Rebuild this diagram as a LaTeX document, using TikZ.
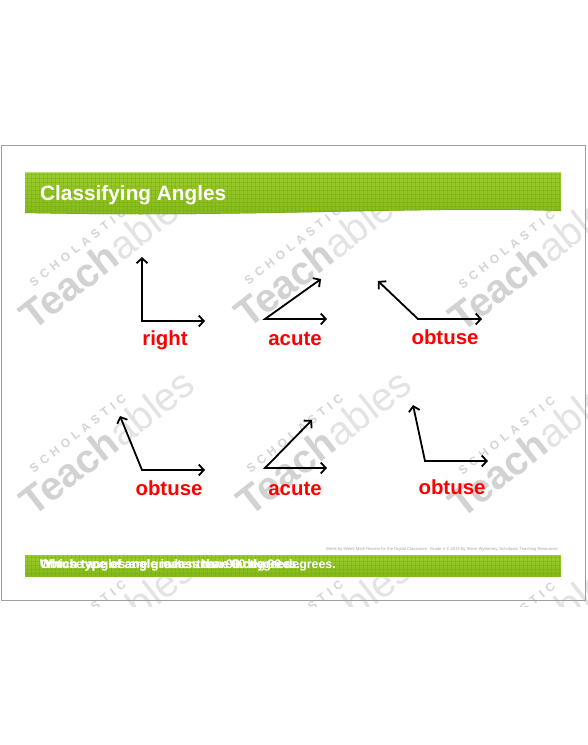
\documentclass[tikz,border=0pt]{standalone}
\usepackage{fontspec}
\setmainfont{Liberation Sans}
\usetikzlibrary{arrows.meta}
\definecolor{bgreen}{HTML}{8DC21F}
\definecolor{bgreenT}{HTML}{9CCD2C}
\definecolor{bgreenB}{HTML}{84B91A}
\definecolor{gridg}{HTML}{6FA512}
\definecolor{wmteach}{HTML}{D2D2D2}
\definecolor{wmables}{HTML}{E3E3E3}
\definecolor{wmschol}{HTML}{D4D4D4}
\newcommand{\wmk}[3]{%
  \begin{scope}[shift={(#1,#2)},rotate=38,transform shape]
    \node[anchor=base west,inner sep=0pt,text=wmteach,font=\bfseries\fontsize{40}{40}\selectfont] (wt#3) at (0,0) {Teach};
    \node[anchor=base west,inner sep=0pt,text=wmables,font=\fontsize{40}{40}\selectfont] (wa#3) at (wt#3.base east) {ables};
    \node[anchor=base west,inner sep=0pt,text=wmschol,font=\bfseries\fontsize{12}{12}\selectfont] (ws#3) at (28,-35) {S\kern4.5pt{}C\kern4.5pt{}H\kern4.5pt{}O\kern4.5pt{}L\kern4.5pt{}A\kern4.5pt{}S\kern4.5pt{}T\kern4.5pt{}I\kern4.5pt{}C};
  \end{scope}}
\begin{document}
\begin{tikzpicture}[x=1pt,y=-1pt,
  angarr/.style={draw=black,line width=1.8pt,line join=miter,
    {Straight Barb[length=5pt,width=11pt]}-{Straight Barb[length=5pt,width=11pt]}},
  lbl/.style={anchor=base,inner sep=0pt,text=red,font=\bfseries\fontsize{20.4}{20.4}\selectfont},
  foot/.style={anchor=base west,inner sep=0pt,text=white,font=\bfseries\fontsize{12.4}{12.4}\selectfont}]
\useasboundingbox (0,0) rectangle (588,745);
\fill[white] (0,0) rectangle (588,745);
% watermarks
\begin{scope}
  \clip (0,140) rectangle (588,606);
  \wmk{33}{332}{a}\wmk{248}{330}{b}\wmk{462}{334}{c}
  \wmk{33}{518}{d}\wmk{250}{518}{e}\wmk{462}{520}{f}
  \wmk{33}{704}{g}\wmk{250}{704}{h}\wmk{462}{706}{i}
\end{scope}
% slide border
\draw[gray!75,line width=0.9pt] (1.5,145.5) rectangle (585.5,600);
% title banner
\path[top color=bgreenT,bottom color=bgreenB] (25,172) -- (561,172) -- (561,211)
  .. controls (420,206) and (250,218) .. (25,213) -- cycle;
\begin{scope}
  \clip (25,172) -- (561,172) -- (561,211) .. controls (420,206) and (250,218) .. (25,213) -- cycle;
  \foreach \i in {27,31,...,561} {\draw[gridg,line width=0.35pt,opacity=0.35] (\i,170) -- (\i,220);}
  \foreach \j in {174,178,...,218} {\draw[gridg,line width=0.35pt,opacity=0.35] (25,\j) -- (561,\j);}
  \draw[white,line width=1.2pt,opacity=0.35] (25,172.6) -- (561,172.6);
  \draw[gridg,line width=1.4pt,opacity=0.6] (561,211) .. controls (420,206) and (250,218) .. (25,213);
\end{scope}
\node[anchor=base west,inner sep=0pt,text=white,font=\bfseries\fontsize{20.8}{20.8}\selectfont] (title) at (40,200) {Classifying Angles};
% footer banner
\path[top color=bgreenT,bottom color=bgreenB] (25,555) rectangle (561,576);
\begin{scope}
  \clip (25,555) rectangle (561,576);
  \foreach \i in {27,31,...,561} {\draw[gridg,line width=0.35pt,opacity=0.35] (\i,555) -- (\i,576);}
  \foreach \j in {557,561,...,576} {\draw[gridg,line width=0.35pt,opacity=0.35] (25,\j) -- (561,\j);}
\end{scope}
\node[foot] (f1) at (40,568.5) {Which type of angle measures exactly 90 degrees.};
\node[foot] (f2) at (40,568.5) {Obtuse angles are greater than 90 degrees.};
\node[foot] (f3) at (40,568.5) {Which type of angle is less than 90 degrees.};
\node[anchor=base east,inner sep=0pt,text=gray!70,font=\fontsize{4.2}{4.2}\selectfont] (credit) at (558,550) {Week-by-Week Math Review for the Digital Classroom: Grade 4 \textcopyright\ 2015 by Steve Wyborney, Scholastic Teaching Resources};
% angles
\coordinate (r0) at (142,321); \coordinate (r1) at (142,257); \coordinate (r2) at (205,321);
\coordinate (a0) at (265,319); \coordinate (a1) at (321,279); \coordinate (a2) at (327,319);
\coordinate (o0) at (418,319); \coordinate (o1) at (378,281); \coordinate (o2) at (482,319);
\coordinate (p0) at (142,470); \coordinate (p1) at (120,416); \coordinate (p2) at (205,470);
\coordinate (c0) at (265,468); \coordinate (c1) at (312,420); \coordinate (c2) at (327,468);
\coordinate (q0) at (425,461); \coordinate (q1) at (413,405); \coordinate (q2) at (488,461);
\draw[angarr] (r1) -- (r0) -- (r2);
\draw[angarr] (a1) -- (a0) -- (a2);
\draw[angarr] (o1) -- (o0) -- (o2);
\draw[angarr] (p1) -- (p0) -- (p2);
\draw[angarr] (c1) -- (c0) -- (c2);
\draw[angarr] (q1) -- (q0) -- (q2);
% labels
\node[lbl] (lr) at (165,345) {right};
\node[lbl] (la) at (295,345) {acute};
\node[lbl] (lo) at (445,344) {obtuse};
\node[lbl] (lp) at (169,495) {obtuse};
\node[lbl] (lc) at (295,495) {acute};
\node[lbl] (lq) at (452,494) {obtuse};
\end{tikzpicture}
\end{document}
